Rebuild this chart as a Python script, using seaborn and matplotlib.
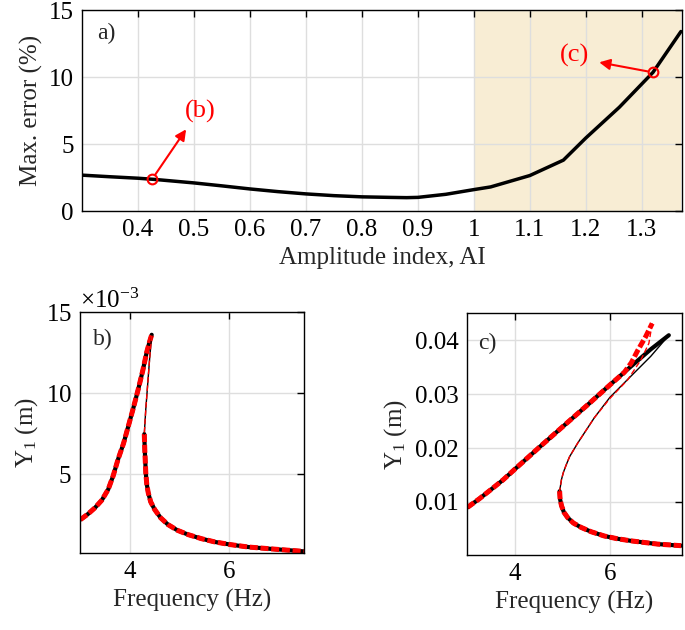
import numpy as np
import matplotlib
matplotlib.use("Agg")
import matplotlib.pyplot as plt
import seaborn as sns

sns.set_style("white")
plt.rcParams['font.family'] = ['Liberation Serif', 'DejaVu Serif']
plt.rcParams['mathtext.fontset'] = 'custom'
plt.rcParams['mathtext.rm'] = 'Liberation Serif'
plt.rcParams['mathtext.it'] = 'Liberation Serif:italic'
plt.rcParams['font.size'] = 18

# a) max. error vs amplitude index
ai = [0.30, 0.35, 0.40, 0.43, 0.50, 0.55, 0.60, 0.65, 0.70, 0.75, 0.80, 0.85,
      0.88, 0.90, 0.95, 1.00, 1.03, 1.10, 1.16, 1.20, 1.26, 1.32, 1.37]
max_err = [2.68, 2.56, 2.45, 2.36, 2.10, 1.88, 1.65, 1.45, 1.28, 1.15, 1.06, 1.02,
           1.00, 1.02, 1.25, 1.60, 1.80, 2.65, 3.80, 5.45, 7.75, 10.35, 13.40]
mark_ai = [0.425, 1.32]
mark_err = [2.36, 10.35]
ai_ticks = [0.4, 0.5, 0.6, 0.7, 0.8, 0.9, 1.0, 1.1, 1.2, 1.3]
ai_ticklabels = ["0.4", "0.5", "0.6", "0.7", "0.8", "0.9", "1", "1.1", "1.2", "1.3"]

# b) AI ~ 0.43 (values x1e-3 m), both models overlap
fb_up = [3.00, 3.15, 3.29, 3.43, 3.56, 3.66, 3.76, 3.87, 3.97, 4.07, 4.17, 4.26, 4.34, 4.40, 4.44]
yb_up = [2.21, 2.55, 2.93, 3.40, 4.07, 4.90, 5.93, 6.90, 8.00, 9.10, 10.27, 11.40, 12.54, 13.20, 13.60]
fb_mid = [4.44, 4.40, 4.36, 4.32, 4.29]
yb_mid = [13.55, 12.20, 10.60, 9.00, 7.48]
fb_lo = [4.29, 4.30, 4.32, 4.34, 4.37, 4.42, 4.50, 4.62, 4.77, 4.96, 5.18, 5.45, 5.72, 6.05, 6.39, 7.00, 7.52]
yb_lo = [7.48, 6.50, 5.10, 4.40, 3.86, 3.30, 2.83, 2.32, 1.90, 1.55, 1.28, 1.03, 0.83, 0.66, 0.52, 0.37, 0.25]

# c) AI ~ 1.32 (m)
fc_up_k = [3.00, 3.25, 3.48, 3.75, 4.00, 4.52, 5.05, 5.53, 6.00, 6.44, 6.86, 7.24]
yc_up_k = [0.0090, 0.0106, 0.0122, 0.0141, 0.0161, 0.0202, 0.0243, 0.0280, 0.0317, 0.0351, 0.0383, 0.0409]
fc_mid_k = [7.24, 6.86, 6.44, 6.00, 5.67, 5.32, 5.15, 5.08, 5.02, 4.98, 4.94]
yc_mid_k = [0.0409, 0.0370, 0.0333, 0.0294, 0.0256, 0.0209, 0.0184, 0.0169, 0.0155, 0.0142, 0.0120]
fc_up_r = [3.00, 3.25, 3.48, 3.75, 4.00, 4.52, 5.05, 5.53, 6.00, 6.30, 6.45, 6.58, 6.75, 6.89]
yc_up_r = [0.0090, 0.0106, 0.0122, 0.0141, 0.0161, 0.0202, 0.0243, 0.0280, 0.0317, 0.0340, 0.0358, 0.0380, 0.0406, 0.0431]
fc_mid_r = [6.89, 6.82, 6.65, 6.37, 6.00, 5.67, 5.32, 5.15, 5.08, 5.02, 4.98, 4.94]
yc_mid_r = [0.0431, 0.0394, 0.0363, 0.0326, 0.0292, 0.0256, 0.0209, 0.0184, 0.0169, 0.0155, 0.0142, 0.0120]
fc_lo = [4.94, 4.95, 4.98, 5.03, 5.11, 5.23, 5.39, 5.60, 5.88, 6.15, 6.44, 7.00, 7.50]
yc_lo = [0.0120, 0.0105, 0.0093, 0.0081, 0.0071, 0.0061, 0.0053, 0.0045, 0.0037, 0.0032, 0.0028, 0.0022, 0.0019]

red = '#FF0000'
grid_c = '#DEDEDE'
shade = '#F8EDD4'
dash = (0, (1.6, 0.55))

fig = plt.figure(figsize=(6.85, 6.3), dpi=100)
ax_a = fig.add_axes([0.1197, 0.665, 0.876, 0.319])
ax_b = fig.add_axes([0.1168, 0.1222, 0.327, 0.3825])
ax_c = fig.add_axes([0.6818, 0.119, 0.314, 0.384])


def style_ax(ax):
    ax.grid(True, color=grid_c, lw=1.0)
    ax.set_axisbelow(True)
    for s in ax.spines.values():
        s.set_color('black')
        s.set_linewidth(1.0)
    ax.tick_params(direction='in', length=5, width=1, top=True, right=True,
                   labelsize=18, colors='black', pad=6)


# ---- a)
ax_a.axvspan(1.0, 1.37, color=shade, lw=0, zorder=0)
sns.lineplot(x=ai, y=max_err, color='black', lw=2.5, sort=False, estimator=None, ax=ax_a, zorder=3)
ax_a.plot(mark_ai, mark_err, 'o', mfc='none', mec=red, mew=1.5, ms=7, zorder=4)
ax_a.annotate('', xy=(0.486, 6.1), xytext=(mark_ai[0], mark_err[0]),
              arrowprops=dict(arrowstyle='-|>', color=red, lw=1.5, mutation_scale=16,
                              shrinkA=4, shrinkB=0))
ax_a.annotate('', xy=(1.224, 11.1), xytext=(mark_ai[1], mark_err[1]),
              arrowprops=dict(arrowstyle='-|>', color=red, lw=1.5, mutation_scale=16,
                              shrinkA=4, shrinkB=0))
ax_a.text(0.512, 7.4, '(b)', color=red, fontsize=19, ha='center', va='center')
ax_a.text(1.18, 11.6, '(c)', color=red, fontsize=19, ha='center', va='center')
ax_a.text(0.025, 0.885, 'a)', transform=ax_a.transAxes, fontsize=17, va='center')
ax_a.set_xlim(0.3, 1.372)
ax_a.set_ylim(0, 15)
ax_a.set_xticks(ai_ticks)
ax_a.set_xticklabels(ai_ticklabels)
ax_a.set_yticks([0, 5, 10, 15])
ax_a.set_xlabel('Amplitude index, AI', fontsize=18, labelpad=4)
ax_a.set_ylabel('Max. error (%)', fontsize=18, labelpad=4)
style_ax(ax_a)

# ---- b)
yb_up_m = np.array(yb_up) * 1e-3
yb_mid_m = np.array(yb_mid) * 1e-3
yb_lo_m = np.array(yb_lo) * 1e-3
for xs, ys in [(fb_up, yb_up_m), (fb_lo, yb_lo_m)]:
    sns.lineplot(x=xs, y=ys, color='black', lw=3.0, sort=False, estimator=None, ax=ax_b)
    sns.lineplot(x=xs, y=ys, color=red, lw=3.6, linestyle=dash, sort=False, estimator=None, ax=ax_b)
sns.lineplot(x=fb_mid, y=yb_mid_m, color='black', lw=1.0, sort=False, estimator=None, ax=ax_b)
sns.lineplot(x=fb_mid, y=yb_mid_m, color=red, lw=1.0, linestyle=(0, (4, 2)), sort=False, estimator=None, ax=ax_b)
ax_b.set_xlim(2.99, 7.52)
ax_b.set_ylim(0.15e-3, 15e-3)
ax_b.set_xticks([4, 6])
ax_b.set_yticks([5e-3, 10e-3, 15e-3])
ax_b.ticklabel_format(axis='y', style='sci', scilimits=(-3, -3), useMathText=True)
ax_b.yaxis.get_offset_text().set_fontsize(18)
ax_b.text(0.058, 0.885, 'b)', transform=ax_b.transAxes, fontsize=17, va='center')
ax_b.set_xlabel('Frequency (Hz)', fontsize=18, labelpad=4)
ax_b.set_ylabel('Y$_1$ (m)', fontsize=18, labelpad=4)
style_ax(ax_b)

# ---- c)
sns.lineplot(x=fc_up_k, y=yc_up_k, color='black', lw=3.0, sort=False, estimator=None, ax=ax_c)
sns.lineplot(x=fc_lo, y=yc_lo, color='black', lw=3.0, sort=False, estimator=None, ax=ax_c)
sns.lineplot(x=fc_mid_k, y=yc_mid_k, color='black', lw=1.0, sort=False, estimator=None, ax=ax_c)
sns.lineplot(x=fc_up_r, y=yc_up_r, color=red, lw=3.6, linestyle=dash, sort=False, estimator=None, ax=ax_c)
sns.lineplot(x=fc_lo, y=yc_lo, color=red, lw=3.6, linestyle=dash, sort=False, estimator=None, ax=ax_c)
sns.lineplot(x=fc_mid_r, y=yc_mid_r, color=red, lw=1.0, linestyle=(0, (4, 2)), sort=False, estimator=None, ax=ax_c)
ax_c.set_xlim(2.99, 7.52)
ax_c.set_ylim(0.00017, 0.045)
ax_c.set_xticks([4, 6])
ax_c.set_yticks([0.01, 0.02, 0.03, 0.04])
ax_c.set_yticklabels(['0.01', '0.02', '0.03', '0.04'])
ax_c.text(0.051, 0.875, 'c)', transform=ax_c.transAxes, fontsize=17, va='center')
ax_c.set_xlabel('Frequency (Hz)', fontsize=18, labelpad=4)
ax_c.set_ylabel('Y$_1$ (m)', fontsize=18, labelpad=4)
style_ax(ax_c)

fig.savefig('out.png', dpi=100)
